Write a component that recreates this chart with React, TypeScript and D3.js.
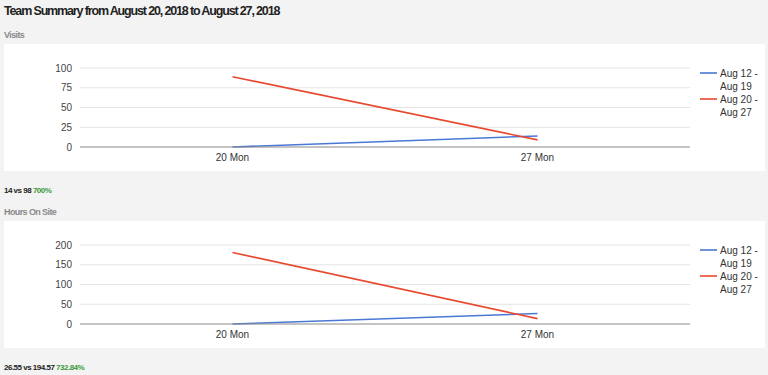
import { useRef, useEffect } from "react";
import * as d3 from "d3";

const days = ["20 Mon", "27 Mon"];
const seriesNames = ["Aug 12 - Aug 19", "Aug 20 - Aug 27"];
const visitsPrev = [0, 14];
const visitsCur = [89, 9];
const visitsTicks = [0, 25, 50, 75, 100];
const hoursPrev = [0, 26.55];
const hoursCur = [181, 13.57];
const hoursTicks = [0, 50, 100, 150, 200];
const colors = ["#4a78d6", "#e8492f"];

const W = 768;
const H = 375;
const FONT = "'Liberation Sans', Arial, sans-serif";

function drawPanel(root, top, title, prev, cur, ticks, summary) {
  root
    .append("text")
    .attr("x", 4)
    .attr("y", top - 6)
    .attr("font-size", 9)
    .attr("fill", "#8a8a8a")
    .attr("letter-spacing", -0.6)
    .attr("font-weight", "bold")
    .text(title);

  root
    .append("rect")
    .attr("x", 4)
    .attr("y", top)
    .attr("width", 761)
    .attr("height", 127)
    .attr("fill", "#fff");

  const x = d3.scalePoint().domain(days).range([80, 690]).padding(0.5);
  const y = d3
    .scaleLinear()
    .domain([0, ticks[ticks.length - 1]])
    .range([top + 103, top + 24]);

  const g = root.append("g");

  g.selectAll(".grid")
    .data(ticks.filter((t) => t !== 0))
    .enter()
    .append("line")
    .attr("x1", 80)
    .attr("x2", 690)
    .attr("y1", (d) => y(d))
    .attr("y2", (d) => y(d))
    .attr("stroke", "#e4e4e4")
    .attr("stroke-width", 1);

  g.selectAll(".ylab")
    .data(ticks)
    .enter()
    .append("text")
    .attr("x", 72)
    .attr("y", (d) => y(d) + 3.5)
    .attr("text-anchor", "end")
    .attr("font-size", 10)
    .attr("fill", "#444")
    .text((d) => d);

  g.selectAll(".xlab")
    .data(days)
    .enter()
    .append("text")
    .attr("x", (d) => x(d))
    .attr("y", y(0) + 14)
    .attr("text-anchor", "middle")
    .attr("font-size", 10)
    .attr("fill", "#333")
    .text((d) => d);

  const line = d3
    .line()
    .x((d, i) => x(days[i]))
    .y((d) => y(d));

  [prev, cur].forEach((vals, i) => {
    g.append("path")
      .attr("d", line(vals))
      .attr("fill", "none")
      .attr("stroke", colors[i])
      .attr("stroke-width", 1.6);
  });

  g.append("line")
    .attr("x1", 80)
    .attr("x2", 690)
    .attr("y1", y(0))
    .attr("y2", y(0))
    .attr("stroke", "#888")
    .attr("stroke-width", 1);

  // legend
  seriesNames.forEach((name, i) => {
    const ly = top + 29 + i * 26;
    const parts = name.split(" - ");
    g.append("line")
      .attr("x1", 700)
      .attr("x2", 717)
      .attr("y1", ly)
      .attr("y2", ly)
      .attr("stroke", colors[i])
      .attr("stroke-width", 1.6);
    const t = g
      .append("text")
      .attr("font-size", 10)
      .attr("fill", "#333");
    t.append("tspan").attr("x", 720).attr("y", ly + 4).text(parts[0] + " -");
    t.append("tspan").attr("x", 720).attr("y", ly + 17).text(parts[1]);
  });

  const s = root
    .append("text")
    .attr("x", 4)
    .attr("y", top + 149)
    .attr("font-size", 8)
    .attr("font-weight", "bold")
    .attr("letter-spacing", -0.5);
  s.append("tspan").attr("fill", "#222").text(summary[0] + " ");
  s.append("tspan").attr("fill", "#3a9a3a").text(summary[1]);
}

export default function App() {
  const svgRef = useRef(null);

  useEffect(() => {
    const svg = d3.select(svgRef.current);
    svg.selectAll("*").remove();
    const root = svg.append("g").attr("font-family", FONT);

    root
      .append("rect")
      .attr("width", W)
      .attr("height", H)
      .attr("fill", "#f3f3f3");

    root
      .append("text")
      .attr("x", 4)
      .attr("y", 15)
      .attr("font-size", 12.5)
      .attr("font-weight", "bold")
      .attr("letter-spacing", -1.15)
      .attr("fill", "#222")
      .text("Team Summary from August 20, 2018 to August 27, 2018");

    drawPanel(root, 44, "Visits", visitsPrev, visitsCur, visitsTicks, [
      "14 vs 98",
      "700%",
    ]);
    drawPanel(root, 221, "Hours On Site", hoursPrev, hoursCur, hoursTicks, [
      "26.55 vs 194.57",
      "732.84%",
    ]);
  }, []);

  return (
    <div style={{ position: "absolute", left: 0, top: 0, width: W, height: H }}>
      <svg ref={svgRef} width={W} height={H}></svg>
    </div>
  );
}
